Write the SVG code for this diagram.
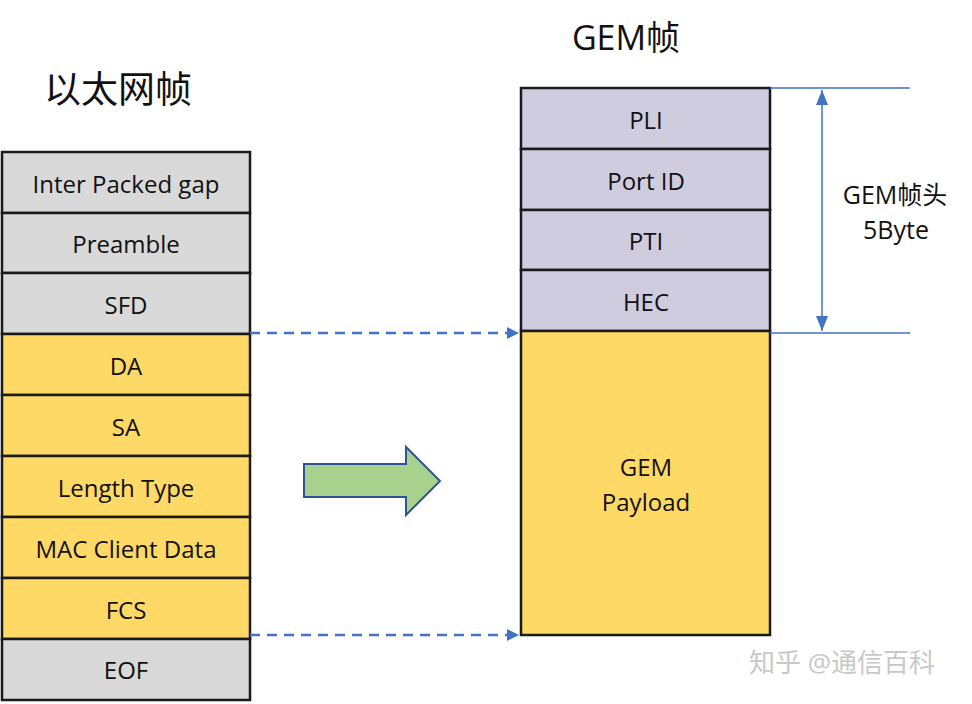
<svg xmlns="http://www.w3.org/2000/svg" width="972" height="704" viewBox="0 0 972 704">
<defs>
<style>
.c{stroke:#1a1a1a;stroke-width:2.5}
.g{fill:#d9d9d9}.y{fill:#ffd966}.p{fill:#d0cce0}
text{font-family:"Open Sans","Noto Sans CJK SC",sans-serif;font-size:24px;fill:#111;text-anchor:middle;dominant-baseline:central}
.t{font-size:37px}
.d{stroke:#4472c4;stroke-width:2.5;stroke-dasharray:10 7;fill:none}
.v{stroke:#4472c4;stroke-width:1.5;fill:none}
</style>
<marker id="a" viewBox="0 0 10 10" refX="10" refY="5" markerWidth="5" markerHeight="5" orient="auto"><path d="M0,0L10,5L0,10z" fill="#4472c4"/></marker>
<marker id="b" viewBox="0 0 10 10" refX="10" refY="5" markerWidth="10" markerHeight="10" orient="auto-start-reverse"><path d="M0,1L10,5L0,9z" fill="#4472c4"/></marker>
</defs>
<rect width="972" height="704" fill="#fff"/>
<text class="t" x="118" y="88">以太网帧</text>
<text class="t" x="626" y="37" style="font-size:34px">GEM帧</text>
<g id="eth">
<g id="ipg"><rect class="c g" x="2" y="152" width="248" height="61"/><text x="126" y="183">Inter Packed gap</text></g>
<g id="pre"><rect class="c g" x="2" y="213" width="248" height="60"/><text x="126" y="243">Preamble</text></g>
<g id="sfd"><rect class="c g" x="2" y="273" width="248" height="61"/><text x="126" y="304">SFD</text></g>
<g id="da"><rect class="c y" x="2" y="334" width="248" height="61"/><text x="126" y="365">DA</text></g>
<g id="sa"><rect class="c y" x="2" y="395" width="248" height="61"/><text x="126" y="426">SA</text></g>
<g id="lt"><rect class="c y" x="2" y="456" width="248" height="61"/><text x="126" y="487">Length Type</text></g>
<g id="mac"><rect class="c y" x="2" y="517" width="248" height="61"/><text x="126" y="548">MAC Client Data</text></g>
<g id="fcs"><rect class="c y" x="2" y="578" width="248" height="61"/><text x="126" y="609">FCS</text></g>
<g id="eof"><rect class="c g" x="2" y="639" width="248" height="61"/><text x="126" y="669">EOF</text></g>
</g>
<g id="gem">
<g id="pli"><rect class="c p" x="521" y="88" width="249" height="61"/><text x="646" y="119">PLI</text></g>
<g id="port"><rect class="c p" x="521" y="149" width="249" height="61"/><text x="646" y="180">Port ID</text></g>
<g id="pti"><rect class="c p" x="521" y="210" width="249" height="60"/><text x="646" y="240">PTI</text></g>
<g id="hec"><rect class="c p" x="521" y="270" width="249" height="61"/><text x="646" y="301">HEC</text></g>
<g id="pay"><rect class="c y" x="521" y="331" width="249" height="304"/><text x="646" y="466">GEM</text><text x="646" y="501">Payload</text></g>
</g>
<g id="bigarrow"><path d="M304,464H406V447L440,481L406,515V497H304Z" fill="#a9d18e" stroke="#2f5597" stroke-width="2"/></g>
<g id="connectors">
<path class="d" d="M250,333H519" marker-end="url(#a)"/>
<path class="d" d="M250,635H519" marker-end="url(#a)"/>
<path class="v" d="M770,88H910M770,333H910"/>
<path class="v" d="M822,90V331" marker-start="url(#b)" marker-end="url(#b)"/>
</g>
<text x="895" y="194" style="font-size:25px">GEM帧头</text>
<text x="896" y="229" style="font-size:25px">5Byte</text>
<text x="842" y="662" style="font-size:26px;fill:#bbb;opacity:0.8">知乎 @通信百科</text>
</svg>
